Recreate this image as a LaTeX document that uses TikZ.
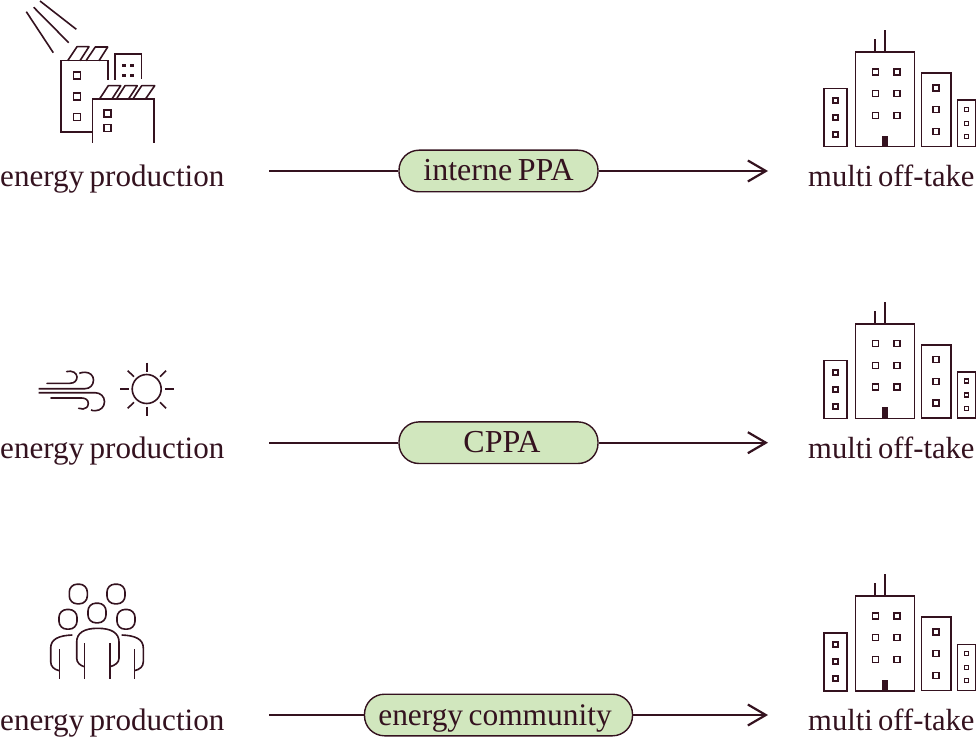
\documentclass[tikz,border=0pt]{standalone}
\usepackage{fontspec}
\setmainfont[WordSpace=0.7]{Liberation Serif}
\usetikzlibrary{arrows.meta}
\definecolor{ink}{HTML}{34121F}
\definecolor{pillgreen}{HTML}{D1E7BE}
\tikzset{
  x=1pt,y=-1pt,
  iconline/.style={draw=ink,line width=1.6pt},
  windowbox/.style={draw=ink,line width=1.5pt,fill=white},
  caption/.style={text=ink,inner sep=0pt,anchor=base west},
  pillbox/.style={draw=ink,line width=1.4pt,fill=pillgreen,rounded corners=20pt,minimum height=41.6pt,inner sep=0pt,
    text=ink,text height=20pt,text depth=0pt,align=center},
  flowline/.style={draw=ink,line width=1.6pt},
  flowarrow/.style={draw=ink,line width=1.6pt,-{Straight Barb[length=18pt,width=21pt,line width=2.2pt]}},
  win/.pic={\draw[windowbox] (-#1/2,-#1/2) rectangle (#1/2,#1/2);},
  city/.pic={
    \draw[iconline] (855.3,52) rectangle (914.3,146.7);
    \draw[iconline] (875,52) -- (875,39.3);
    \draw[iconline] (884.7,52) -- (884.7,30);
    \fill[ink] (881.7,135.7) rectangle (888,146.7);
    \foreach \wx in {875.7,897}{\foreach \wy in {72,93.7,115.3}{\pic at (\wx,\wy) {win=6};}}
    \draw[iconline] (823.7,88.7) rectangle (847,146.7);
    \foreach \wy in {100.7,117.7,134.7}{\pic at (835.3,\wy) {win=5};}
    \draw[iconline] (921.3,73) rectangle (950.7,146.5);
    \foreach \wy in {88,109.7,131.3}{\pic at (936,\wy) {win=6};}
    \draw[iconline] (957.3,100.3) rectangle (975.3,146.5);
    \foreach \wy in {109.3,123.3,136.7}{\pic at (966.3,\wy) {win=4};}
  },
}
\begin{document}
\begin{tikzpicture}
\useasboundingbox (0,0) rectangle (977,738);
% rays
\draw[iconline] (26.3,11.7) -- (53.3,52.7);
\draw[iconline] (33.7,7.3) -- (68.7,42.7);
\draw[iconline] (40,1) -- (76.3,29.3);
% panels
\draw[iconline,line join=round] (67.7,60.7) -- (77,46.7) -- (89,46.7) -- (80,60.7);
\draw[iconline,line join=round] (86,60.7) -- (95.3,47) -- (107.7,47) -- (99,60.7);
\draw[iconline] (107.7,80) -- (107.7,60.7) -- (60.7,60.7) -- (60.7,132.3) -- (92.3,132.3);
\foreach \wy in {75.3,96.3,117}{\pic at (77,\wy) {win=7};}
\draw[iconline] (92.3,142.7) -- (92.3,99.3) -- (154,99.3) -- (154,142.7);
\foreach \wy in {113.3,128}{\pic at (107.3,\wy) {win=7};}
\draw[iconline,line join=round] (99.3,99.3) -- (108.3,85.7) -- (120.7,85.7) -- (111.7,99.3);
\draw[iconline,line join=round] (116.3,99.3) -- (125,85.7) -- (137.3,85.7) -- (128.3,99.3);
\draw[iconline,line join=round] (132.7,99.3) -- (141.7,85.7) -- (154.7,85.7) -- (145.3,99.3);
\draw[iconline] (114.7,80) -- (114.7,54) -- (141.3,54) -- (141.3,79.5);
\foreach \dx in {123.7,132}{\foreach \dy in {65.7,75.7}{\fill[ink] (\dx-1.8,\dy-1.8) rectangle (\dx+1.8,\dy+1.8);}}
% wind
\draw[iconline,line cap=round] (47,383.3) -- (70,383.3) .. controls (74.5,383.3) and (77,380.5) .. (77,377) .. controls (77,373) and (72,370) .. (66.7,371.6);
\draw[iconline] (38.7,388.7) -- (85,388.7) .. controls (90,388.7) and (93.5,385) .. (93.5,380) .. controls (93.5,375.5) and (90,372.3) .. (85,372.3) .. controls (83,372.3) and (81,372.6) .. (79.3,373.3);
\draw[iconline] (38.7,392.7) -- (95,392.7) .. controls (100.5,392.7) and (104.5,396.5) .. (104.5,401.7) .. controls (104.5,407) and (100.5,410.7) .. (95,410.7) .. controls (93.5,410.7) and (92,410.5) .. (91,410);
\draw[iconline,line cap=round] (51,398) -- (81.7,398) .. controls (85.5,398) and (88.3,400) .. (88.3,403.3) .. controls (88.3,407) and (85.5,409) .. (83,409) .. controls (81.5,409) and (80,408.8) .. (78.7,408.3);
% sun
\draw[iconline] (146.7,389) circle[radius=14.5];
\draw[iconline] (146.7,362.7) -- (146.7,371.7);
\draw[iconline] (146.7,406.7) -- (146.7,415.7);
\draw[iconline] (120,389) -- (128.7,389);
\draw[iconline] (165,389) -- (173.7,389);
\draw[iconline] (127.7,370.7) -- (134,376.7);
\draw[iconline] (166,370.7) -- (160,376.7);
\draw[iconline] (127.7,408.3) -- (134,402.3);
\draw[iconline] (166,408.3) -- (160,402.3);
% people
\foreach \hx/\hy in {78.3/594,116/594,97/613,68/619.3,126/619.3}{
  \draw[iconline,rounded corners=7.8pt] (\hx-9,\hy-9.8) rectangle (\hx+9,\hy+9.8);
}
\draw[iconline] (84.3,666.7) .. controls (80,665.5) and (76.7,662.5) .. (76.7,658.3) -- (76.7,642) .. controls (76.7,633) and (84,628.3) .. (97.8,628.3) .. controls (111.5,628.3) and (119,633) .. (119,642) -- (119,658.3) .. controls (119,662.5) and (115,665.5) .. (110,666.7);
\draw[iconline] (84.3,643.3) -- (84.3,679);
\draw[iconline] (110,643.3) -- (110,679);
\draw[iconline] (72.3,635) .. controls (59,635.5) and (50.7,639) .. (50.7,648) -- (50.7,661.7) .. controls (50.7,666.5) and (54,669.5) .. (59.3,670.7);
\draw[iconline] (59.3,649) -- (59.3,679);
\draw[iconline] (121.7,635) .. controls (135,635.5) and (143.3,639) .. (143.3,648) -- (143.3,661.7) .. controls (143.3,666.5) and (140,669.5) .. (134.3,670.7);
\draw[iconline] (134.3,649) -- (134.3,679);
% rows
\foreach \rowid/\rowoff/\capy/\pillx/\pillw/\pillsize/\pillshift/\pilltext in {a/0/187/498.5/199/32/0/interne PPA,b/271.7/458.7/498.5/199/32/7/CPPA,c/544/730/498.5/268/31.4/-7/energy community}{
  \pic at (0,\rowoff) {city};
  \node[caption,font=\fontsize{31.1}{34}\selectfont] (prod\rowid) at (0,\capy) {energy production};
  \node[caption,font=\fontsize{30.6}{34}\selectfont] (take\rowid) at (808,\capy) {multi off-take};
  \coordinate (from\rowid) at (269,171+\rowoff);
  \coordinate (to\rowid) at (768,171+\rowoff);
  \node[pillbox,minimum width=\pillw pt,font=\fontsize{\pillsize}{34}\selectfont] (pill\rowid) at (\pillx,171+\rowoff) {\hspace*{\pillshift pt}\pilltext};
  \draw[flowline] (from\rowid) -- (pill\rowid.west);
  \draw[flowarrow] (pill\rowid.east) -- (to\rowid);
}
\end{tikzpicture}
\end{document}
